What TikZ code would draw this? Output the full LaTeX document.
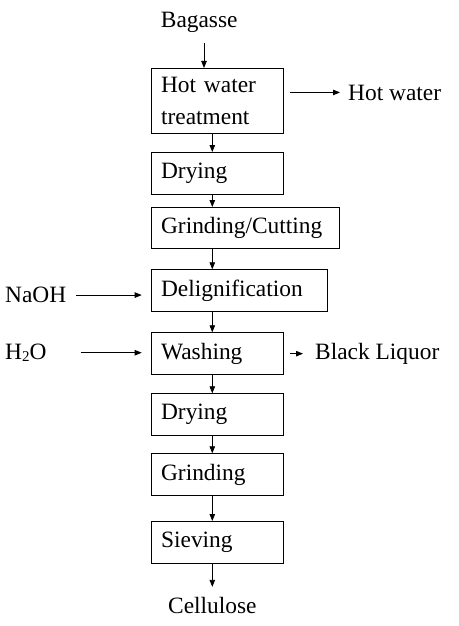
\documentclass[tikz,border=0pt]{standalone}
\usepackage{fontspec}
\setmainfont{Liberation Serif}
\usetikzlibrary{arrows.meta}
\newcommand{\lowtwo}{\raisebox{-0.22ex}{\fontsize{15}{15}\selectfont 2}}
\begin{document}
\begin{tikzpicture}[x=1pt,y=-1pt,
  every node/.style={inner sep=0pt,font=\fontsize{23.4}{32.4}\selectfont},
  stage/.style={draw,line width=0.8pt,anchor=north west,inner xsep=10pt,
    align=left,text width=112pt,minimum height=42pt},
  stream/.style={anchor=base west},
  flow/.style={line width=0.8pt,-{Triangle[length=7pt,width=5.5pt]}}]
\useasboundingbox (0,0) rectangle (458,626);
% main line
\node[stage,minimum height=65pt] (b1) at (150.7,68) {Hot water\\treatment};
\node[stage] (b2) at (150.7,152) {Drying};
\node[stage,text width=168pt,minimum height=41pt] (b3) at (150.7,207) {Grinding/Cutting};
\node[stage,text width=156.6pt] (b4) at (150.7,269.3) {Delignification};
\node[stage] (b5) at (150.7,332.3) {Washing};
\node[stage] (b6) at (150.7,393.3) {Drying};
\node[stage] (b7) at (150.7,453.3) {Grinding};
\node[stage] (b8) at (150.7,521) {Sieving};
% streams in and out
\node[stream] (bagasse) at (160.7,27.7) {Bagasse};
\node[stream] (hotw) at (348,100) {Hot water};
\node[stream] (naoh) at (5,302.7) {NaOH};
\node[stream] (water) at (5,359.3) {H\lowtwo O};
\node[stream] (liquor) at (315,359.3) {Black Liquor};
\node[stream] (cellulose) at (168,613.3) {Cellulose};
\coordinate (feedx) at (204,0);
\coordinate (trunk) at (212.3,0);
% arrows
\draw[flow,shorten <=10pt] (bagasse.south -| feedx) -- (b1.north -| feedx);
\draw[flow] (b1.south -| trunk) -- (b2.north -| trunk);
\draw[flow] (b2.south -| trunk) -- (b3.north -| trunk);
\draw[flow] (b3.south -| trunk) -- (b4.north -| trunk);
\draw[flow] (b4.south -| trunk) -- (b5.north -| trunk);
\draw[flow] (b5.south -| trunk) -- (b6.north -| trunk);
\draw[flow] (b6.south -| trunk) -- (b7.north -| trunk);
\draw[flow] (b7.south -| trunk) -- (b8.north -| trunk);
\draw[flow,shorten >=10pt] (b8.south -| trunk) -- (cellulose.north -| trunk);
\draw[flow,shorten <=6pt,shorten >=8pt] (b1.east |- hotw.west) -- (hotw.west);
\draw[flow,shorten <=10pt,shorten >=9pt] (naoh.east) -- (naoh.east -| b4.west);
\draw[flow,shorten <=34pt,shorten >=9pt] (water.east) -- (water.east -| b5.west);
\draw[flow,shorten <=6pt,shorten >=12pt] (b5.east |- liquor.west) -- (liquor.west);
\end{tikzpicture}
\end{document}
